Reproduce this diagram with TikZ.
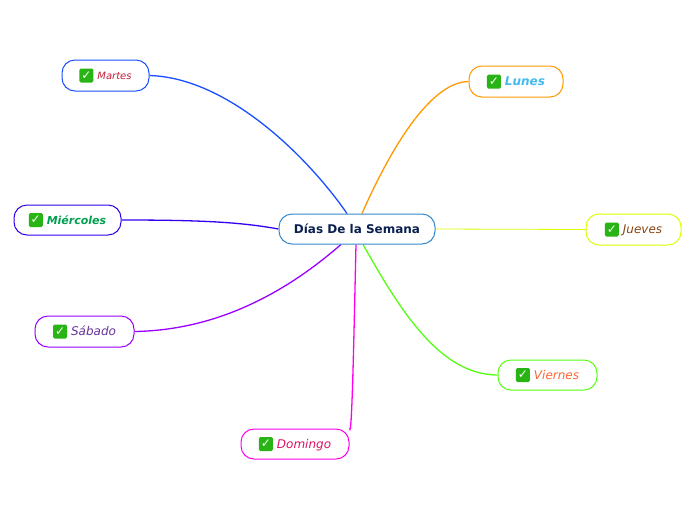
\documentclass[tikz,border=0pt]{standalone}
\usepackage{fontspec}
\setmainfont{DejaVu Sans}
\usetikzlibrary{backgrounds}
\definecolor{cma}{RGB}{26,79,255}\definecolor{tma}{RGB}{192,32,58}
\definecolor{clu}{RGB}{255,153,0}\definecolor{tlu}{RGB}{68,187,238}
\definecolor{cmi}{RGB}{51,0,238}\definecolor{tmi}{RGB}{0,160,80}
\definecolor{cju}{RGB}{221,255,0}\definecolor{tju}{RGB}{136,68,17}
\definecolor{csa}{RGB}{153,0,255}\definecolor{tsa}{RGB}{102,51,153}
\definecolor{cvi}{RGB}{85,255,17}\definecolor{tvi}{RGB}{255,102,51}
\definecolor{cdo}{RGB}{255,0,238}\definecolor{tdo}{RGB}{221,17,102}
\definecolor{cc}{RGB}{51,136,204}\definecolor{tc}{RGB}{10,32,80}
\definecolor{chkg}{RGB}{40,180,20}
\begin{document}
\begin{tikzpicture}[x=1pt,y=-1pt,
 box/.style={draw,rounded corners=13pt,line width=1pt,fill=white,inner sep=0pt},
 chk/.style={fill=chkg,rounded corners=1.5pt,minimum size=14pt,inner sep=0pt,text=white,font=\fontsize{12}{12}\selectfont\bfseries\upshape},
 lk/.style={line width=1.3pt}]
\useasboundingbox (0,0) rectangle (696,520);
\newcommand{\tick}{\tikz[baseline=-4pt]\node[chk]{✓};\hspace{4pt}}
\node[box,draw=cc,minimum width=156pt,minimum height=30pt,font=\fontsize{12}{12}\selectfont\bfseries,text=tc] (c) at (357,229) {Días De la Semana};
\node[box,draw=cma,minimum width=87pt,minimum height=31pt,font=\fontsize{10}{10}\selectfont\itshape,text=tma] (ma) at (105.5,75.5) {\tick Martes};
\node[box,draw=clu,minimum width=94pt,minimum height=31pt,font=\fontsize{12}{12}\selectfont\bfseries\itshape,text=tlu] (lu) at (516,81.5) {\tick Lunes};
\node[box,draw=cmi,minimum width=107pt,minimum height=30pt,font=\fontsize{11}{11}\selectfont\bfseries\itshape,text=tmi] (mi) at (67.5,220) {\tick Miércoles};
\node[box,draw=cju,minimum width=95pt,minimum height=31pt,font=\fontsize{12}{12}\selectfont\itshape,text=tju] (ju) at (633.5,229.5) {\tick Jueves};
\node[box,draw=csa,minimum width=99pt,minimum height=31pt,font=\fontsize{12}{12}\selectfont\itshape,text=tsa] (sa) at (84.5,331.5) {\tick Sábado};
\node[box,draw=cvi,minimum width=99pt,minimum height=30pt,font=\fontsize{12}{12}\selectfont\itshape,text=tvi] (vi) at (547.5,375) {\tick Viernes};
\node[box,draw=cdo,minimum width=108pt,minimum height=30pt,font=\fontsize{12}{12}\selectfont\itshape,text=tdo] (do) at (295,444) {\tick Domingo};
\begin{scope}[on background layer]
\draw[lk,cma] (ma.east) .. controls (230,78) and (310,160) .. (c.north -| 347,0);
\draw[lk,clu] (c.north -| 362,0) .. controls (390,150) and (430,82) .. (lu.west);
\draw[lk,cmi] (mi.east) .. controls (200,220) and (240,222) .. (c.west);
\draw[lk,cju,line width=0.8pt] (c.east) -- (ju.west);
\draw[lk,csa] (sa.east) .. controls (230,330) and (300,280) .. (c.south -| 341,0);
\draw[lk,cvi] (c.south -| 363,0) .. controls (400,310) and (440,375) .. (vi.west);
\draw[lk,cdo] (c.south -| 356,0) .. controls (354,330) and (352,440) .. (do.north east);
\end{scope}
\end{tikzpicture}
\end{document}
